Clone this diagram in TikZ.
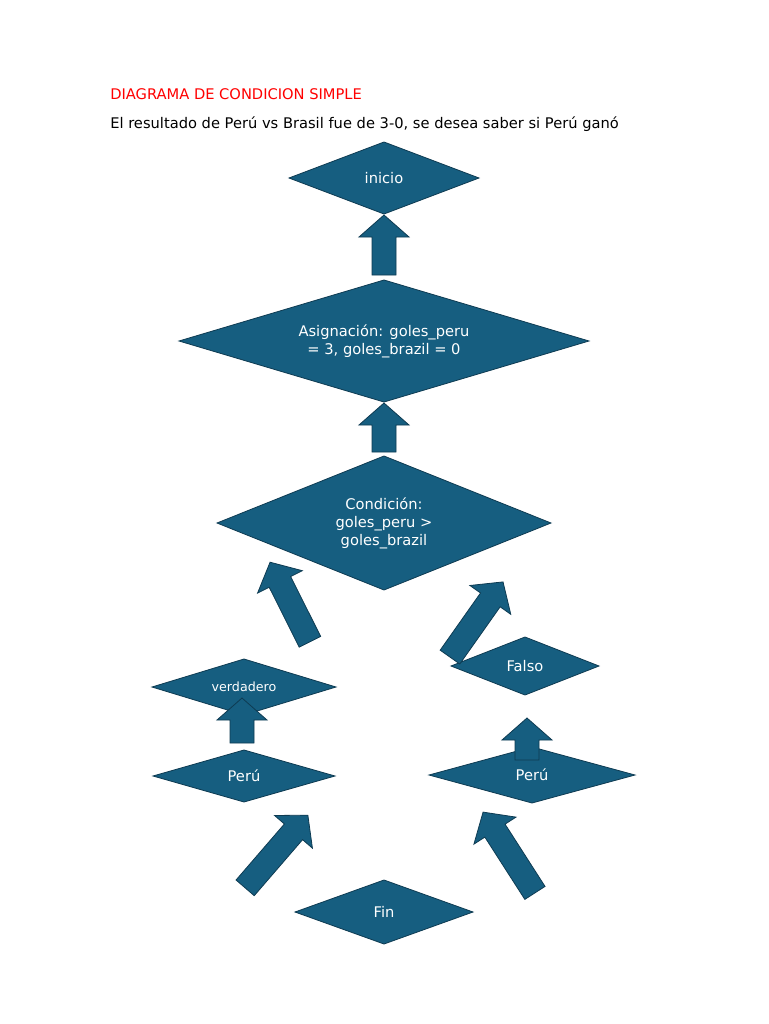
\documentclass[tikz,border=0pt]{standalone}
\usepackage{fontspec}
\setmainfont{DejaVu Sans}
\definecolor{dfill}{HTML}{165E80}
\definecolor{dline}{HTML}{0E3B52}
\tikzset{x=0.75pt,y=-0.75pt,
  dia/.style={fill=dfill,draw=dline,line width=0.6pt},
  dtext/.style={text=white,font=\fontsize{11}{13.5}\selectfont,align=center},
  barrowst/.style={fill=dfill,draw=dline,line width=0.6pt}}
\newcommand\mydiamond[5]{% name cx cy w h
  \draw[dia] (#2-#4/2,#3) -- (#2,#3-#5/2) -- (#2+#4/2,#3) -- (#2,#3+#5/2) -- cycle;
  \coordinate (#1) at (#2,#3);}
\newcommand\barrow[4]{% cx cy angle len
  \begin{scope}[shift={(#1,#2)},rotate=#3]
  \pgfmathsetmacro\hl{#4/2}\pgfmathsetmacro\hb{#4/2-22}
  \draw[barrowst] (-\hl,-12) -- (\hb,-12) -- (\hb,-25) -- (\hl,0) -- (\hb,25) -- (\hb,12) -- (-\hl,12) -- cycle;
  \end{scope}}
\begin{document}
\begin{tikzpicture}
\useasboundingbox[fill=white] (0,0) rectangle (768,1024);
\node[anchor=west,text=red,font=\fontsize{11}{13}\selectfont,inner sep=0] (title) at (110,94) {DIAGRAMA DE CONDICION SIMPLE};
\node[anchor=west,font=\fontsize{11}{13}\selectfont,inner sep=0] (sub) at (110,124) {El resultado de Perú vs Brasil fue de 3-0, se desea saber si Perú ganó};
\mydiamond{ini}{384}{178}{190}{72}
\mydiamond{asig}{384}{341}{410}{122}
\mydiamond{cond}{384}{523}{334}{134}
\mydiamond{verd}{244}{687}{184}{56}
\mydiamond{fals}{525}{666}{148}{58}
\mydiamond{perl}{244}{776}{182}{52}
\mydiamond{perr}{532}{775}{206}{56}
\mydiamond{fin}{384}{912}{178}{64}
\barrow{384}{245}{90}{60}
\barrow{384}{427.5}{90}{49}
\barrow{290}{602}{116.6}{89}
\barrow{476.5}{619.5}{54.8}{92}
\barrow{242}{720.5}{90}{45}
\barrow{527}{739}{90}{42}
\barrow{276.5}{851.5}{49.2}{96}
\barrow{509}{852.5}{122.7}{96}
\node[dtext] (tini) at (ini) {inicio};
\node[dtext] (tasig) at (asig) {Asignación: goles\_peru\\= 3, goles\_brazil = 0};
\node[dtext] (tcond) at (cond) {Condición:\\goles\_peru >\\goles\_brazil};
\node[dtext,font=\fontsize{9.5}{11}\selectfont] (tverd) at (verd) {verdadero};
\node[dtext] (tfals) at (fals) {Falso};
\node[dtext] (tperl) at (perl) {Perú};
\node[dtext] (tperr) at (perr) {Perú};
\node[dtext] (tfin) at (fin) {Fin};
\end{tikzpicture}
\end{document}
